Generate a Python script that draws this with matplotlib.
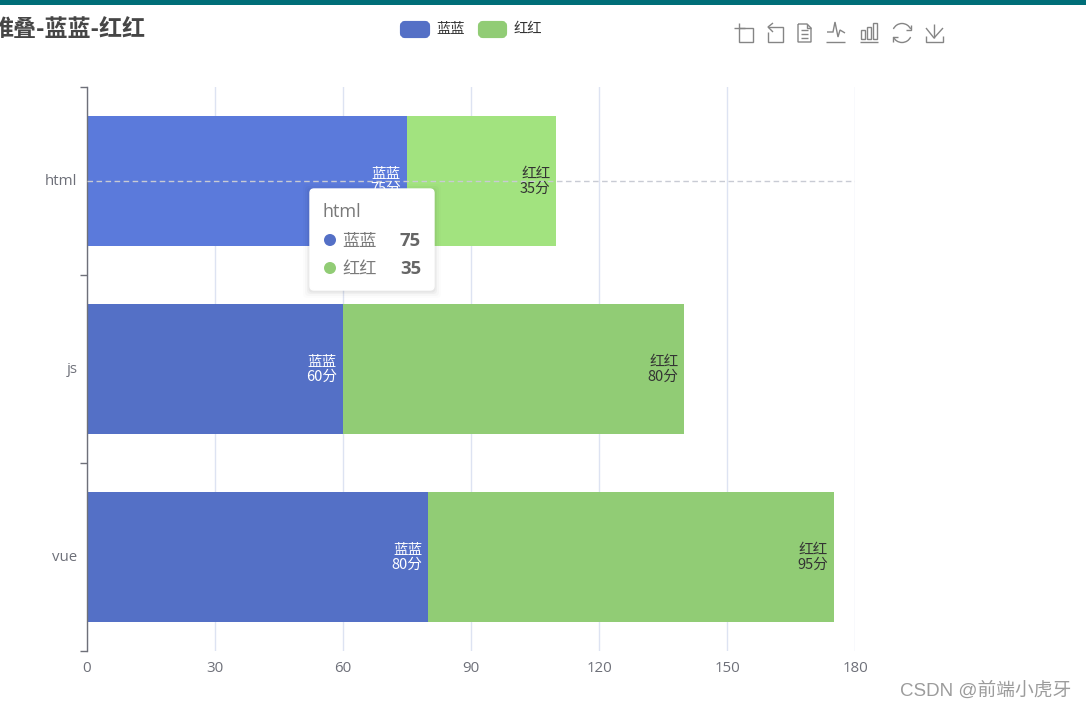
import matplotlib
matplotlib.use('Agg')
import matplotlib.pyplot as plt
from matplotlib.patches import FancyBboxPatch, Rectangle, Circle, Arc
from matplotlib.transforms import ScaledTranslation

plt.rcParams['font.family'] = ['Noto Sans CJK SC', 'DejaVu Sans']

categories = ['html', 'js', 'vue']
blue_vals = [75, 60, 80]
green_vals = [35, 80, 95]
blue_name = '蓝蓝'
green_name = '红红'
title = '堆叠-蓝蓝-红红'
x_ticks = [0, 30, 60, 90, 120, 150, 180]
watermark = 'CSDN @前端小虎牙'

blue = '#5470c6'
green = '#91cc75'
blue_hi = '#5b7adb'
green_hi = '#a2e37f'
hover = 0  # html bar is hovered in the picture

W, H = 1086, 709
axis_color = '#6e7079'
icon_color = '#858585'
latin = ['Open Sans', 'DejaVu Sans']

fig = plt.figure(figsize=(W / 100, H / 100), dpi=100)
ax = fig.add_axes([87 / W, 1 - 651 / H, (855 - 87) / W, (651 - 87) / H])

# bars
ys = list(range(len(categories)))
blue_colors = [blue_hi if i == hover else blue for i in ys]
green_colors = [green_hi if i == hover else green for i in ys]
ax.barh(ys, blue_vals, height=0.69, color=blue_colors, zorder=2)
ax.barh(ys, green_vals, left=blue_vals, height=0.69, color=green_colors, zorder=2)

# labels inside the bar ends
for i in ys:
	ax.annotate(blue_name + '\n' + str(blue_vals[i]) + '分', (blue_vals[i], i), xytext=(-4.3, -0.2),
		textcoords='offset points', ha='right', va='center', color='white', fontsize=10.5,
		linespacing=1.02, zorder=4)
	ax.annotate(green_name + '\n' + str(green_vals[i]) + '分', (blue_vals[i] + green_vals[i], i), xytext=(-4.3, -0.2),
		textcoords='offset points', ha='right', va='center', color='#333333', fontsize=10.5,
		linespacing=1.02, zorder=4)

ax.axhline(hover, color='#c8cbd4', lw=1, ls=(0, (4, 2.5)), zorder=3)

ax.set_xlim(0, 180)
ax.set_ylim(len(categories) - 0.5, -0.5)
ax.set_xticks(x_ticks)
ax.grid(axis='x', color='#dde3f2', lw=1, zorder=1)
ax.set_axisbelow(True)
ax.tick_params(axis='x', length=0, pad=7, labelsize=10.8, labelcolor=axis_color)
for lab in ax.get_xticklabels():
	lab.set_fontfamily(latin)

# y ticks sit on the band edges, names in the middle
ax.set_yticks([i - 0.5 for i in range(len(categories) + 1)])
ax.set_yticklabels([])
ax.set_yticks(ys, minor=True)
ax.set_yticklabels(categories, minor=True, fontsize=10.8, color=axis_color, family=latin)
ax.tick_params(axis='y', which='major', length=5, width=1, color=axis_color)
ax.tick_params(axis='y', which='minor', length=0, pad=7)
for lab in ax.get_yticklabels(minor=True):
	lab.set_transform(lab.get_transform() + ScaledTranslation(0, 2 / 100, fig.dpi_scale_trans))
for s in ['top', 'right', 'bottom']:
	ax.spines[s].set_visible(False)
ax.spines['left'].set_color(axis_color)
ax.spines['left'].set_linewidth(1)

# overlay in pixel coords for everything outside of the plot
ov = fig.add_axes([0, 0, 1, 1], zorder=10)
ov.set_xlim(0, W)
ov.set_ylim(H, 0)
ov.axis('off')
ov.patch.set_alpha(0)

ov.add_patch(Rectangle((0, 0), W, 5, color='#006e78', lw=0))
ov.text(146, 30, title, ha='right', va='center', fontsize=16.6, fontweight='bold', color='#464646')

# legend
ov.add_patch(FancyBboxPatch((402, 23), 26, 13, boxstyle='round,pad=0,rounding_size=3',
	fc=blue, ec=blue, lw=3))
ov.add_patch(FancyBboxPatch((480, 23), 25, 13, boxstyle='round,pad=0,rounding_size=3',
	fc=green, ec=green, lw=3))
ov.text(436, 29, blue_name, ha='left', va='center', fontsize=10.3, color='#333333')
ov.text(513, 29, green_name, ha='left', va='center', fontsize=10.3, color='#333333')

# toolbox icons
def line(xs, ys_, lw=1.0):
	ov.plot(xs, ys_, color=icon_color, lw=lw, solid_capstyle='butt', solid_joinstyle='miter')

# zoom
line([739, 753, 753, 739, 739], [28, 28, 42, 42, 23])
line([734, 745], [28, 28])
# back
line([768, 768, 783, 783, 768], [32, 42, 42, 27, 27])
line([773, 768, 773], [23, 27, 32])
# data view
line([798, 807, 811, 811, 798, 798], [24, 24, 28, 42, 42, 24])
line([807, 807, 811], [24, 28, 28])
line([801, 808], [30, 30])
line([801, 808], [34, 34])
line([801, 808], [38, 38])
# line chart
line([826, 845], [42, 42])
line([827, 833, 835, 838, 840, 845], [32, 32, 22, 37, 30, 33])
# bar chart
line([860, 878], [42, 42])
for bx, by in [(861, 30), (867, 27), (873, 23)]:
	line([bx, bx, bx + 4, bx + 4, bx], [39, by, by, 39, 39])
# refresh
ov.add_patch(Arc((902, 33), 19, 19, theta1=205, theta2=335, color=icon_color, lw=1))
ov.add_patch(Arc((902, 33), 19, 19, theta1=25, theta2=155, color=icon_color, lw=1))
line([906, 911, 911], [30, 30, 25])
line([893, 893, 898], [42, 37, 37])
# save
line([926, 926, 943, 943], [36, 42, 42, 36])
line([934, 934], [24, 38])
line([926, 934, 943], [28, 38, 28])

# tooltip, with a soft shadow
for grow, a in [(7, 0.012), (5, 0.02), (3, 0.03), (1.5, 0.035)]:
	ov.add_patch(FancyBboxPatch((310 - grow, 190 - grow + 1), 124 + 2 * grow, 100 + 2 * grow,
		boxstyle='round,pad=0,rounding_size=4', fc='black', ec='none', alpha=a))
ov.add_patch(FancyBboxPatch((310, 189), 124, 101, boxstyle='round,pad=0,rounding_size=4', fc='white', ec='white', lw=1))
ov.text(323, 212, categories[hover], ha='left', va='center', fontsize=13, color='#7a7a7a', family=latin)
for ty, name, val, col in [(240, blue_name, blue_vals[hover], blue), (268, green_name, green_vals[hover], green)]:
	ov.add_patch(Circle((330, ty), 6, fc=col, ec='none'))
	ov.text(342.5, ty + 1, name, ha='left', va='center', fontsize=12.4, color='#7a7a7a')
	ov.text(421, ty + 1, str(val), ha='right', va='center', fontsize=13.3, fontweight='bold', color='#666666', family=latin)

ov.text(1071, 691, watermark, ha='right', va='center', fontsize=13.5, color='#9c9c9c',
	family=['Liberation Sans', 'Noto Sans CJK SC'])

fig.savefig('out.png', dpi=100)
